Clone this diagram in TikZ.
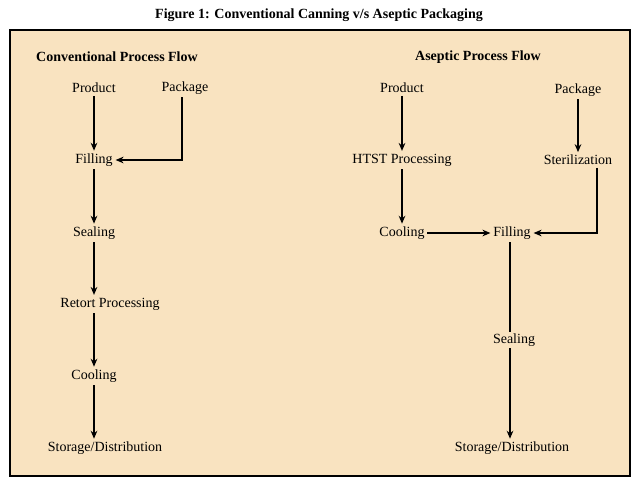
\documentclass[tikz,border=0pt]{standalone}
\usepackage{fontspec}
\setmainfont{Liberation Serif}
\usetikzlibrary{arrows.meta}
\definecolor{bg}{HTML}{F9E3C0}
\begin{document}
\begin{tikzpicture}[x=0.75pt,y=-0.75pt,
  lbl/.style={font=\fontsize{10.5}{12}\selectfont,inner sep=2pt},
  hd/.style={font=\bfseries\fontsize{10.5}{12}\selectfont},
  arr/.style={-{Stealth[length=6pt,width=5pt]},line width=1pt}]
\useasboundingbox (0,0) rectangle (638,479);
\fill[white] (0,0) rectangle (638,479);
\node[hd] (title) at (319,15) {Figure 1: Conventional Canning v/s Aseptic Packaging};
\draw[fill=bg,line width=1pt] (10,30) rectangle (630,476);
\node[hd] (h1) at (117,57) {Conventional Process Flow};
\node[hd] (h2) at (478,57) {Aseptic Process Flow};
% left
\node[lbl] (p1) at (94,88) {Product};
\node[lbl] (k1) at (185,88) {Package};
\node[lbl] (f1) at (94,160) {Filling};
\node[lbl] (s1) at (94,233) {Sealing};
\node[lbl] (r1) at (110,304) {Retort Processing};
\node[lbl] (c1) at (94,376) {Cooling};
\node[lbl] (d1) at (105,448) {Storage/Distribution};
\draw[arr] (p1) -- (f1);
\draw[arr] (k1.south -| 182,0) |- (f1.east);
\draw[arr] (f1) -- (s1);
\draw[arr] (s1) -- (r1.north -| 94,0);
\draw[arr] (r1.south -| 94,0) -- (c1);
\draw[arr] (c1) -- (d1.north -| 94,0);
% right
\node[lbl] (p2) at (402,88) {Product};
\node[lbl] (k2) at (578,90) {Package};
\node[lbl] (t2) at (402,160) {HTST Processing};
\node[lbl] (z2) at (578,160) {Sterilization};
\node[lbl] (c2) at (402,233) {Cooling};
\node[lbl] (f2) at (512,233) {Filling};
\node[lbl] (s2) at (514,340) {Sealing};
\node[lbl] (d2) at (512,448) {Storage/Distribution};
\draw[arr] (p2) -- (t2);
\draw[arr] (k2) -- (z2);
\draw[arr] (t2) -- (c2);
\draw[arr] (c2) -- (f2);
\draw[arr] (z2.south -| 597,0) |- (f2.east);
\draw[line width=0.8pt] (f2.south -| 510,0) -- (510,332);
\draw[arr,line width=0.8pt] (510,348) -- (d2.north -| 510,0);
\end{tikzpicture}
\end{document}
